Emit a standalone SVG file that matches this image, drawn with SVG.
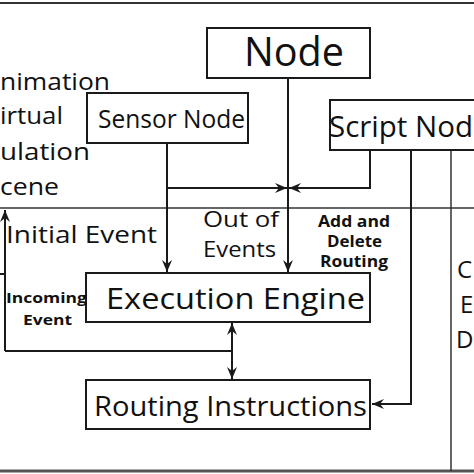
<svg xmlns="http://www.w3.org/2000/svg" width="474" height="474" viewBox="0 0 474 474">
<style>
.box{fill:#fff;stroke:#1a1a1a;stroke-width:2}
.ln{fill:none;stroke:#1a1a1a;stroke-width:2}
.t{font-family:"Open Sans","Liberation Sans",sans-serif;fill:#111}
.b{font-family:"Open Sans","Liberation Sans",sans-serif;font-weight:bold;fill:#111}
</style>
<defs>
<marker id="ah" viewBox="0 0 12 10" refX="12" refY="5" markerWidth="12" markerHeight="10" markerUnits="userSpaceOnUse" orient="auto-start-reverse">
<path d="M0,0 L12,5 L0,10 L4,5 z" fill="#1a1a1a"/>
</marker>
</defs>
<rect x="0" y="0" width="474" height="474" fill="#fff"/>
<g id="frame">
<line x1="0" y1="3" x2="474" y2="3" stroke="#333" stroke-width="2"/>
<line x1="0" y1="208" x2="474" y2="208" stroke="#333" stroke-width="1.5"/>
<line x1="0" y1="471" x2="474" y2="471" stroke="#555" stroke-width="3"/>
<line x1="451" y1="150" x2="451" y2="471" stroke="#333" stroke-width="1.5"/>
</g>
<g id="connectors">
<path class="ln" d="M288,78 V272" marker-end="url(#ah)"/>
<path class="ln" d="M167,143 V272" marker-end="url(#ah)"/>
<path class="ln" d="M167,188 H287" marker-end="url(#ah)"/>
<path class="ln" d="M370,150 V188 H289" marker-end="url(#ah)"/>
<path class="ln" d="M411,150 V404 H372" marker-end="url(#ah)"/>
<path class="ln" d="M5,351 V210" marker-end="url(#ah)"/>
<path class="ln" d="M0,274 H5"/>
<path class="ln" d="M5,351 H232"/>
<path class="ln" d="M232,323 V379" marker-start="url(#ah)" marker-end="url(#ah)"/>
</g>
<g id="node">
<rect class="box" x="207" y="28" width="163" height="50"/>
<text class="t" x="244" y="66" font-size="40" textLength="100" lengthAdjust="spacingAndGlyphs">Node</text>
</g>
<g id="sensor-node">
<rect class="box" x="87" y="93" width="161" height="50"/>
<text class="t" x="98" y="128" font-size="25" textLength="147" lengthAdjust="spacingAndGlyphs">Sensor Node</text>
</g>
<g id="script-node">
<rect class="box" x="330" y="100" width="160" height="50"/>
<text class="t" x="329" y="137" font-size="29" textLength="144" lengthAdjust="spacingAndGlyphs">Script Nod</text>
</g>
<g id="execution-engine">
<rect class="box" x="86" y="273" width="284" height="49"/>
<text class="t" x="106" y="309" font-size="29" textLength="259" lengthAdjust="spacingAndGlyphs">Execution Engine</text>
</g>
<g id="routing-instructions">
<rect class="box" x="86" y="380" width="284" height="49"/>
<text class="t" x="94" y="416" font-size="27" textLength="273" lengthAdjust="spacingAndGlyphs">Routing Instructions</text>
</g>
<g id="labels">
<text class="t" x="0" y="90" font-size="24" textLength="110" lengthAdjust="spacingAndGlyphs">nimation</text>
<text class="t" x="0" y="124" font-size="24" textLength="63" lengthAdjust="spacingAndGlyphs">irtual</text>
<text class="t" x="0" y="160" font-size="24" textLength="90" lengthAdjust="spacingAndGlyphs">ulation</text>
<text class="t" x="0" y="195" font-size="24" textLength="59" lengthAdjust="spacingAndGlyphs">cene</text>
<text class="t" x="6" y="243" font-size="23" textLength="151" lengthAdjust="spacingAndGlyphs">Initial Event</text>
<text class="t" x="203" y="227" font-size="22" textLength="76" lengthAdjust="spacingAndGlyphs">Out of</text>
<text class="t" x="203" y="257" font-size="22" textLength="73" lengthAdjust="spacingAndGlyphs">Events</text>
<text class="b" x="318" y="227" font-size="16" textLength="72" lengthAdjust="spacingAndGlyphs">Add and</text>
<text class="b" x="327" y="247" font-size="16" textLength="55" lengthAdjust="spacingAndGlyphs">Delete</text>
<text class="b" x="320" y="267" font-size="16" textLength="68" lengthAdjust="spacingAndGlyphs">Routing</text>
<text class="b" x="6" y="303" font-size="15" textLength="81" lengthAdjust="spacingAndGlyphs">Incoming</text>
<text class="b" x="23" y="325" font-size="15" textLength="49" lengthAdjust="spacingAndGlyphs">Event</text>
<text class="t" x="457" y="278" font-size="24">C</text>
<text class="t" x="460" y="313" font-size="24">E</text>
<text class="t" x="456" y="348" font-size="24">D</text>
</g>
</svg>
